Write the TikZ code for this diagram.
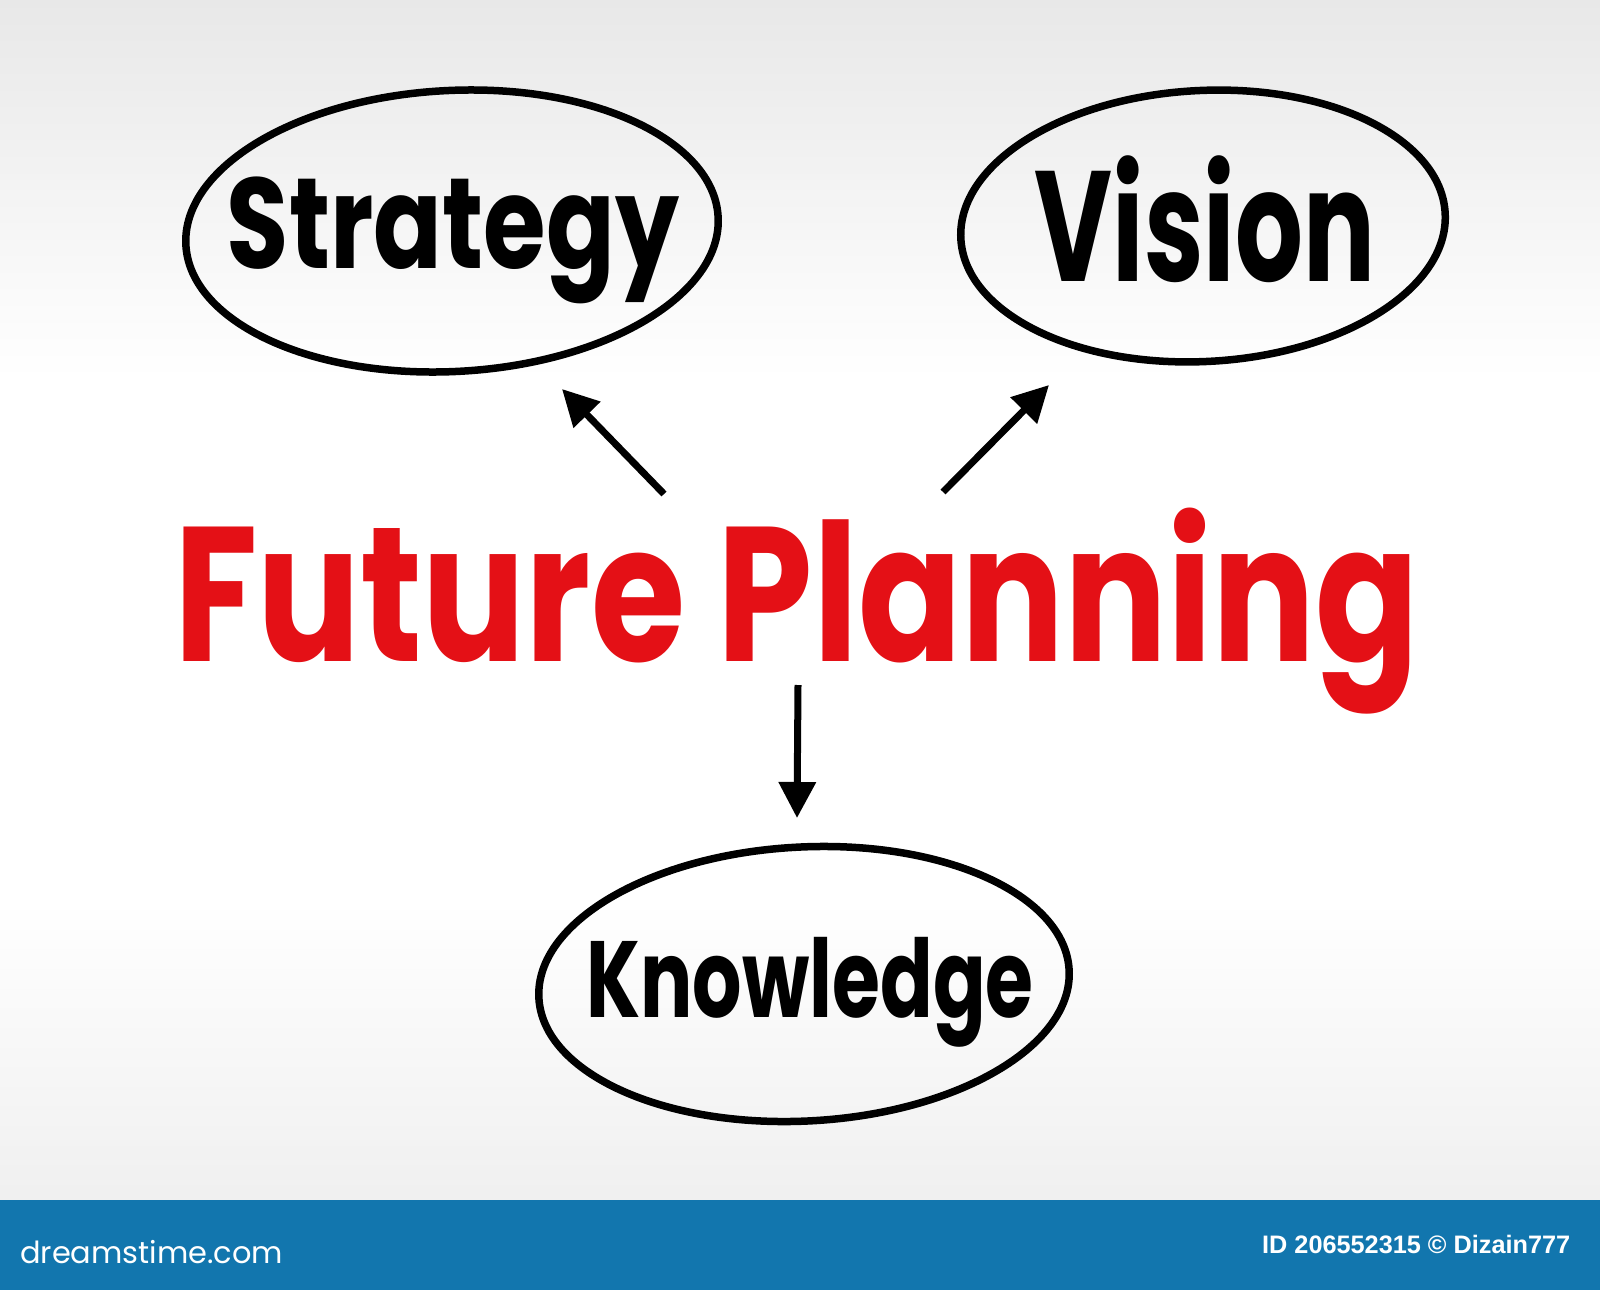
\documentclass[tikz,border=0pt]{standalone}
\usepackage{fontspec}
\usepackage{graphicx}
\setmainfont{Poppins}
\newfontfamily\idfont{Liberation Sans}
\usetikzlibrary{arrows.meta,shapes.geometric}
\definecolor{titlered}{RGB}{228,16,22}
\definecolor{barblue}{RGB}{18,118,174}
\tikzset{
  bubble/.style={draw=black,line width=7.5pt,ellipse,inner sep=0pt,outer sep=0pt,rotate=3},
  lbl/.style={inner sep=0pt,outer sep=0pt,text=black},
  conn/.style={line width=7pt,draw=black,-{Triangle[length=36pt,width=36pt]}},
}
\begin{document}
\begin{tikzpicture}[x=1pt,y=-1pt]
\useasboundingbox (0,0) rectangle (1600,1290);
% background
\fill[white] (0,0) rectangle (1600,1200);
\shade[top color=black!9,bottom color=white] (0,0) rectangle (1600,380);
\shade[top color=white,bottom color=black!6] (0,900) rectangle (1600,1200);
\fill[barblue] (0,1200) rectangle (1600,1290);

% ellipses
\node[bubble,minimum width=533pt,minimum height=281pt] (eS) at (452,231) {};
\node[bubble,minimum width=485pt,minimum height=271pt] (eV) at (1203,226) {};
\node[bubble,minimum width=531pt,minimum height=274pt] (eK) at (804,984) {};

% labels
\node[lbl] (tS) at (453,240) {\resizebox*{452pt}{127pt}{\bfseries Strategy}};
\node[lbl] (tV) at (1205,219) {\resizebox*{340pt}{127pt}{\bfseries Vision}};
\node[lbl] (tK) at (810,992) {\resizebox*{447pt}{110pt}{\bfseries Knowledge}};
\node[lbl,text=titlered] (tF) at (797,611) {\resizebox*{1245pt}{206pt}{\bfseries Future Planning}};

% arrows
\coordinate (aS0) at (664,494);
\coordinate (aS1) at (562,389);
\coordinate (aV0) at (943,492);
\coordinate (aV1) at (1049,385);
\coordinate (aK0) at (798,685);
\coordinate (aK1) at (797,818);
\draw[conn] (aS0) -- (aS1);
\draw[conn] (aV0) -- (aV1);
\draw[conn] (aK0) -- (aK1);

% footer
\node[anchor=base west,inner sep=0pt,text=white] (dm) at (20,1263) {\resizebox{263pt}{!}{dreamstime.com}};
\node[anchor=base west,inner sep=0pt,text=white] (id) at (1262,1253) {\resizebox{308pt}{!}{\idfont\bfseries ID 206552315 © Dizain777}};
\end{tikzpicture}
\end{document}
